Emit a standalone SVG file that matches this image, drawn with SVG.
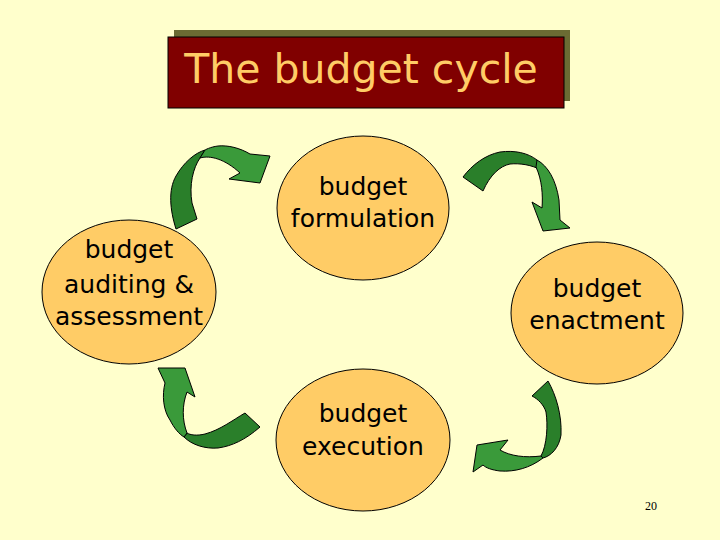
<svg xmlns="http://www.w3.org/2000/svg" width="720" height="540" viewBox="0 0 720 540">
<style>
.node{fill:#FFCC66;stroke:#000;stroke-width:1}
.lbl{font-family:"DejaVu Sans",sans-serif;font-size:25px;fill:#000;text-anchor:middle}
.dk{fill:#2A7F2A;stroke:#000;stroke-width:1;stroke-linejoin:round}
.lt{fill:#3A9A3A;stroke:#000;stroke-width:1;stroke-linejoin:round}
</style>
<rect width="720" height="540" fill="#FFFFCC"/>
<g id="title">
<rect x="174" y="30" width="396" height="71" fill="#6B6B33"/>
<rect x="168" y="37" width="396" height="71" fill="#800000" stroke="#000" stroke-width="1"/>
<text x="361" y="83" font-family="DejaVu Sans,sans-serif" font-size="41" fill="#FFCC66" text-anchor="middle">The budget cycle</text>
</g>
<g id="formulation">
<ellipse class="node" cx="363" cy="208" rx="86" ry="72"/>
<text class="lbl" x="363" y="195">budget</text>
<text class="lbl" x="363" y="227">formulation</text>
</g>
<g id="enactment">
<ellipse class="node" cx="597" cy="313" rx="86" ry="71"/>
<text class="lbl" x="597" y="297">budget</text>
<text class="lbl" x="597" y="329">enactment</text>
</g>
<g id="execution">
<ellipse class="node" cx="363" cy="440" rx="87" ry="71"/>
<text class="lbl" x="363" y="422">budget</text>
<text class="lbl" x="363" y="455">execution</text>
</g>
<g id="auditing">
<ellipse class="node" cx="129" cy="292" rx="87" ry="72"/>
<text class="lbl" x="129" y="258">budget</text>
<text class="lbl" x="129" y="293">auditing &amp;</text>
<text class="lbl" x="129" y="325">assessment</text>
</g>
<g id="connectors">
<!-- top-left arrow -->
<path class="dk" d="M176,229 C170,210 168,190 176,176 C184,162 195,153 205,150 L200,158 C193,168 189,185 192,203 L197,219 Z"/>
<path class="lt" d="M200,158 C210,155 225,159 240,173 L229,179 L260,183 L270,156 L250,154 C240,148 228,145 218,146 C210,147 205,150 205,150 Z"/>
<!-- top-right arrow -->
<path class="dk" d="M463,177 C472,165 485,155 500,152 C515,150 528,153 537,160 L541,170 C532,165 520,163 510,164 C500,166 490,175 483,191 Z"/>
<path class="lt" d="M537,160 C548,166 556,180 559,200 L560,220 L570,228 L543,231 L532,202 L542,208 C543,195 542,180 536,167 Z"/>
<!-- bottom-right arrow -->
<path class="dk" d="M548,381 C556,395 562,415 561,435 C559,448 551,456 543,458 L541,456 C547,445 548,425 546,412 C544,405 538,399 532,396 Z"/>
<path class="lt" d="M543,458 C530,468 515,472 500,471 C492,470 486,468 483,465 L473,472 L477,445 L508,440 L500,450 C510,456 525,458 541,456 Z"/>
<!-- bottom-left arrow -->
<path class="dk" d="M260,427 L245,413 C233,420 220,430 205,434 C197,436 190,435 187,433 L184,437 C192,445 205,449 218,448 C232,446 245,440 260,427 Z"/>
<path class="lt" d="M187,433 C182,420 182,405 187,392 L195,397 L185,368 L158,368 L165,383 C162,395 163,410 170,420 C174,428 179,434 184,437 Z"/>
</g>
<text x="651" y="510" font-family="Liberation Serif,serif" font-size="12" fill="#000" text-anchor="middle">20</text>
</svg>
